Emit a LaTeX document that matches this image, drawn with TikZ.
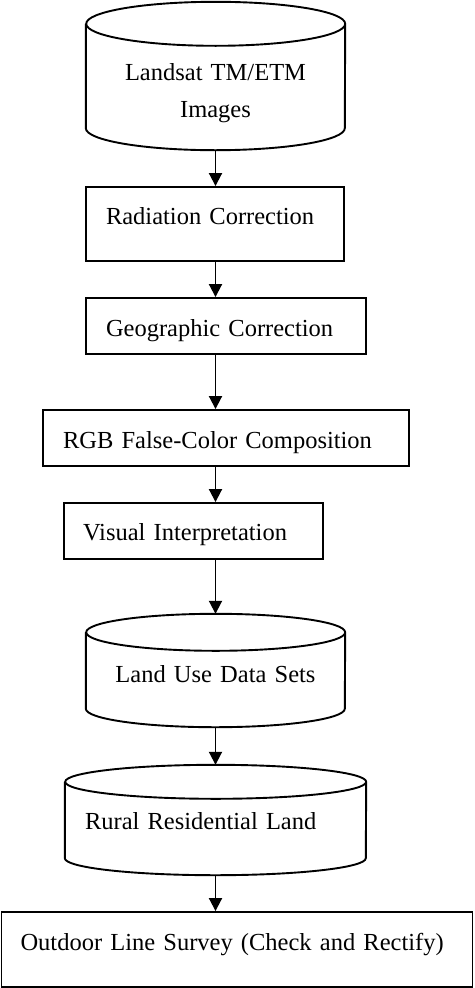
\documentclass[tikz,border=0pt]{standalone}
\usepackage{fontspec}
\setmainfont{Liberation Serif}
\usetikzlibrary{arrows.meta}

\begin{document}
\begin{tikzpicture}[x=1pt, y=-1pt, > = {Triangle[length=13pt, width=13pt]},
    every node/.style = {font=\fontsize{24.5}{37}\selectfont},
    box/.style = {draw, line width=1.9pt, rectangle, align=left, inner xsep=20pt, inner ysep=0pt, anchor=base},
    store/.style = {rectangle, inner xsep=20pt, inner ysep=0pt, anchor=base},
    rim/.style = {line width=1.9pt},
    flow/.style = {line width=1.9pt, ->}]

    \useasboundingbox (0,0) rectangle (474,988);

    % data stores
    \node[store, text width=219pt, align=center, text height=78pt, text depth=70pt] (landsat) at (215.5,80) {Landsat TM/ETM\\Images};
    \node[store, text width=219pt, align=center, text height=68pt, text depth=45pt] (landuse) at (215.5,682) {Land Use Data Sets};
    \node[store, text width=261pt, align=left, text height=64pt, text depth=46pt] (rural) at (215.5,829) {Rural Residential Land};

    \foreach \n/\w/\r in {landsat/129.5/22, landuse/129.5/18.5, rural/150.5/17}
        \draw[rim] ([yshift=-\r pt]\n.north west) -- ([yshift=\r pt]\n.south west)
            arc[start angle=180, end angle=360, x radius=\w pt, y radius=\r pt] -- ([yshift=-\r pt]\n.north east)
            arc[start angle=0, end angle=180, x radius=\w pt, y radius=\r pt]
            arc[start angle=180, end angle=360, x radius=\w pt, y radius=\r pt];

    % processing steps
    \node[box, text width=218pt, text height=37pt, text depth=37pt] (radiation) at (215,224) {Radiation Correction};
    \node[box, text width=240pt, text height=38pt, text depth=18pt] (geographic) at (226,336) {Geographic Correction};
    \node[box, text width=326pt, text height=38pt, text depth=18pt] (rgb) at (226,448) {RGB False-Color Composition};
    \node[box, inner xsep=19pt, text width=221pt, text height=37pt, text depth=19pt] (visual) at (193.5,540) {Visual Interpretation};
    \node[box, inner xsep=19pt, text width=433pt, text height=38pt, text depth=37pt] (survey) at (237,950) {Outdoor Line Survey (Check and Rectify)};

    % arrows
    \coordinate (axis) at (215.5,0);
    \draw[flow] (axis |- landsat.south) -- (axis |- radiation.north);
    \draw[flow] (axis |- radiation.south) -- (axis |- geographic.north);
    \draw[flow] (axis |- geographic.south) -- (axis |- rgb.north);
    \draw[flow] (axis |- rgb.south) -- (axis |- visual.north);
    \draw[flow] (axis |- visual.south) -- (axis |- landuse.north);
    \draw[flow] (axis |- landuse.south) -- (axis |- rural.north);
    \draw[flow] (axis |- rural.south) -- (axis |- survey.north);

\end{tikzpicture}
\end{document}
